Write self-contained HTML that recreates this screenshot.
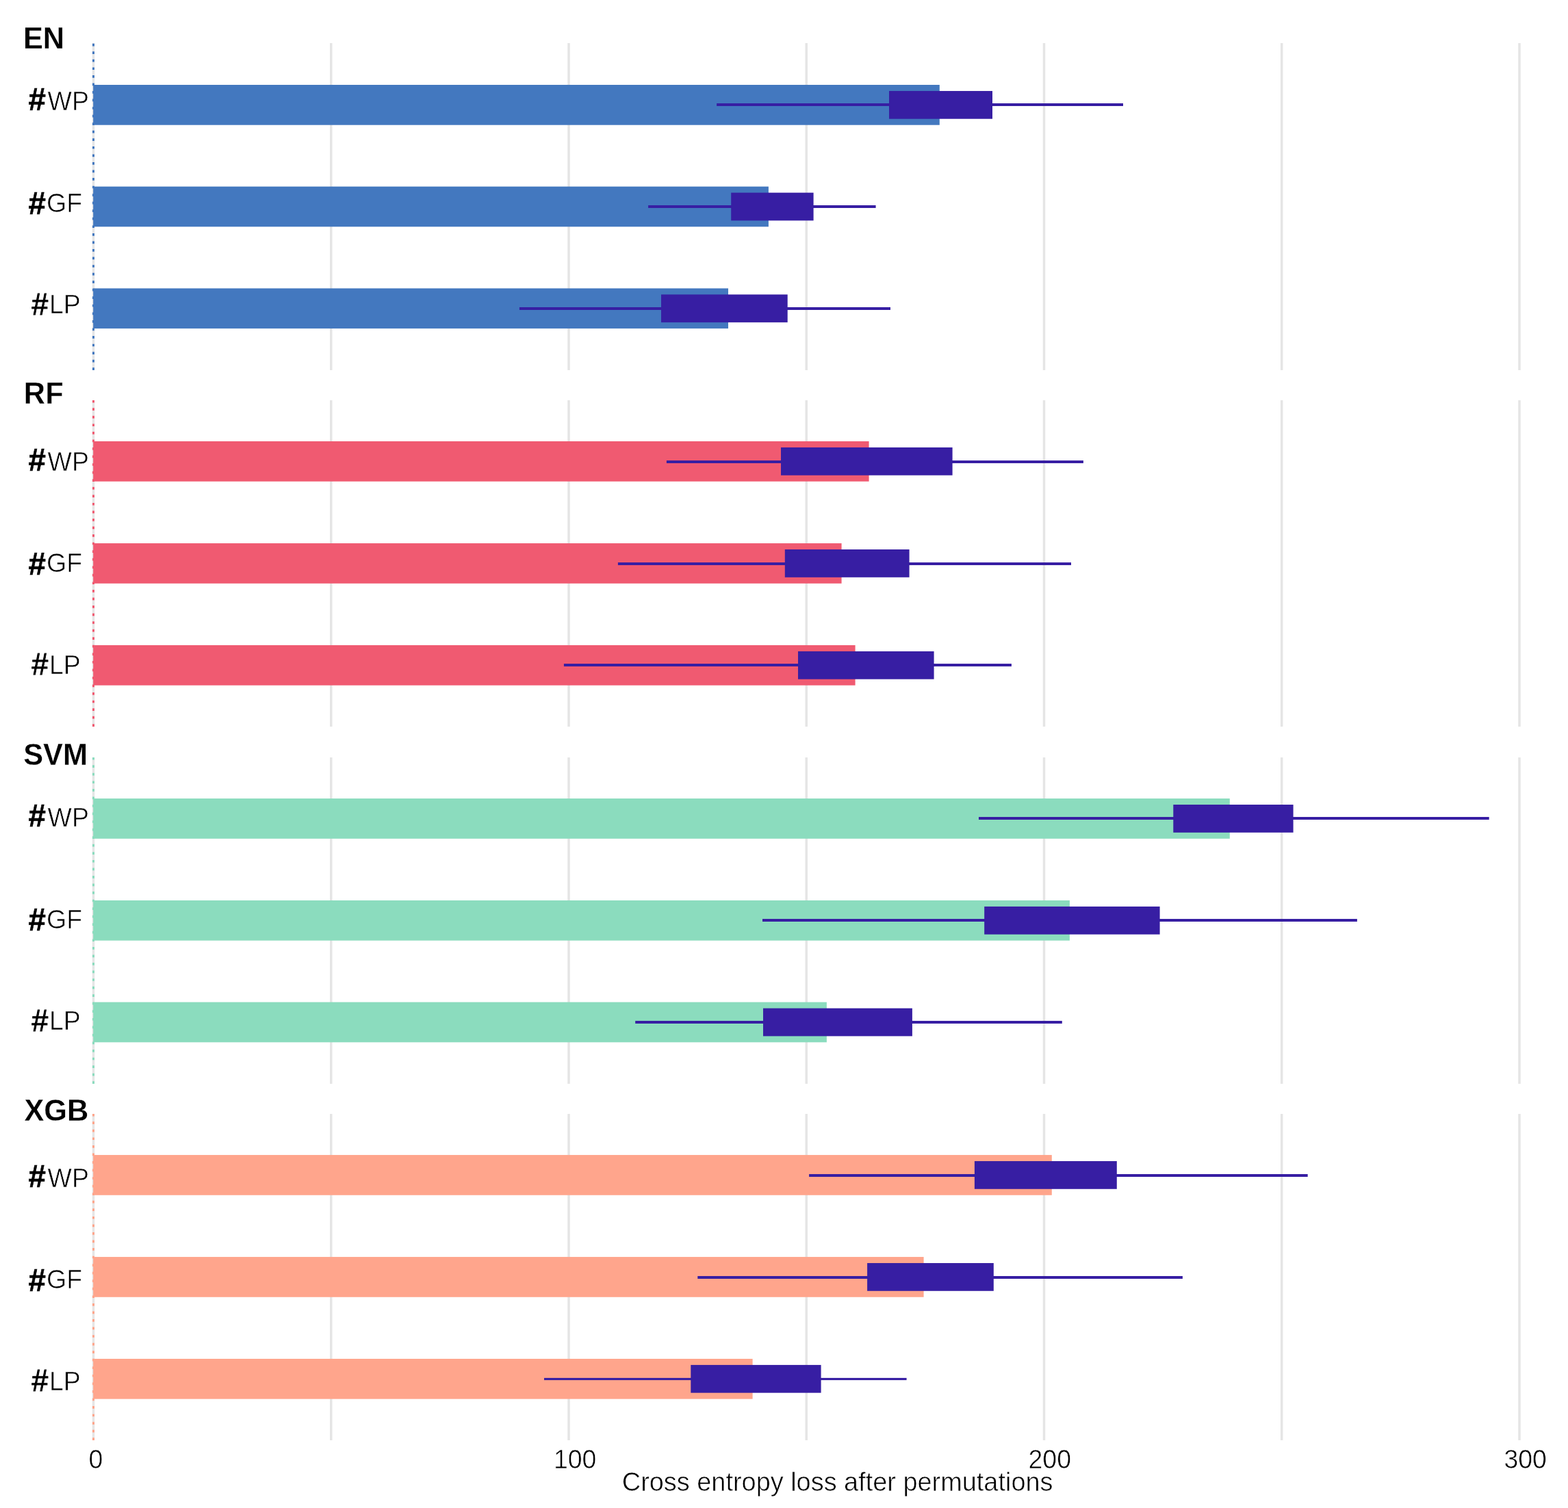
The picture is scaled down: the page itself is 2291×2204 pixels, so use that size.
<!DOCTYPE html>
<html><head><meta charset="utf-8"><title>Cross entropy loss after permutations</title>
<style>html,body{margin:0;padding:0;background:#fff;}svg{display:block;}text{font-family:"Liberation Sans",Arial,sans-serif;fill:#000;}</style></head><body>
<svg width="2291" height="2204" viewBox="0 0 2291 2204">
<rect width="2291" height="2204" fill="#fff"/>
<g><rect x="134.75" y="63" width="3.5" height="478" fill="#e5e5e5"/><rect x="482" y="63" width="3.5" height="478" fill="#e5e5e5"/><rect x="829.25" y="63" width="3.5" height="478" fill="#e5e5e5"/><rect x="1176.5" y="63" width="3.5" height="478" fill="#e5e5e5"/><rect x="1523.75" y="63" width="3.5" height="478" fill="#e5e5e5"/><rect x="1871" y="63" width="3.5" height="478" fill="#e5e5e5"/><rect x="2218.25" y="63" width="3.5" height="478" fill="#e5e5e5"/><line x1="136.5" y1="541" x2="136.5" y2="63" stroke="#4378bf" stroke-width="3" stroke-dasharray="3.7 7.85"/><rect x="136.2" y="124" width="1236.6" height="58.7" fill="#4378bf"/><rect x="136.2" y="272.65" width="986.7" height="58.7" fill="#4378bf"/><rect x="136.2" y="421.45" width="927.8" height="58.7" fill="#4378bf"/><rect x="1047.1" y="151" width="593.9" height="4" fill="#371ea3"/><rect x="1299" y="132.97" width="151" height="40.75" fill="#371ea3"/><rect x="947.1" y="300" width="332.5" height="4" fill="#371ea3"/><rect x="1068.2" y="281.62" width="120.4" height="40.75" fill="#371ea3"/><rect x="758.9" y="449" width="542.1" height="4" fill="#371ea3"/><rect x="966" y="430.43" width="184.7" height="40.75" fill="#371ea3"/></g>
<g><rect x="134.75" y="585" width="3.5" height="477" fill="#e5e5e5"/><rect x="482" y="585" width="3.5" height="477" fill="#e5e5e5"/><rect x="829.25" y="585" width="3.5" height="477" fill="#e5e5e5"/><rect x="1176.5" y="585" width="3.5" height="477" fill="#e5e5e5"/><rect x="1523.75" y="585" width="3.5" height="477" fill="#e5e5e5"/><rect x="1871" y="585" width="3.5" height="477" fill="#e5e5e5"/><rect x="2218.25" y="585" width="3.5" height="477" fill="#e5e5e5"/><line x1="136.5" y1="1062" x2="136.5" y2="585" stroke="#f05a71" stroke-width="3" stroke-dasharray="3.7 7.85"/><rect x="136.2" y="644.95" width="1133.4" height="58.7" fill="#f05a71"/><rect x="136.2" y="794.05" width="1093.4" height="58.7" fill="#f05a71"/><rect x="136.2" y="942.95" width="1113.4" height="58.7" fill="#f05a71"/><rect x="973.9" y="673" width="609" height="4" fill="#371ea3"/><rect x="1141" y="653.92" width="250.6" height="40.75" fill="#371ea3"/><rect x="902.9" y="822" width="662.1" height="4" fill="#371ea3"/><rect x="1146.8" y="803.02" width="181.8" height="40.75" fill="#371ea3"/><rect x="823.9" y="970" width="654" height="4" fill="#371ea3"/><rect x="1166" y="951.92" width="198.6" height="40.75" fill="#371ea3"/></g>
<g><rect x="134.75" y="1107" width="3.5" height="477" fill="#e5e5e5"/><rect x="482" y="1107" width="3.5" height="477" fill="#e5e5e5"/><rect x="829.25" y="1107" width="3.5" height="477" fill="#e5e5e5"/><rect x="1176.5" y="1107" width="3.5" height="477" fill="#e5e5e5"/><rect x="1523.75" y="1107" width="3.5" height="477" fill="#e5e5e5"/><rect x="1871" y="1107" width="3.5" height="477" fill="#e5e5e5"/><rect x="2218.25" y="1107" width="3.5" height="477" fill="#e5e5e5"/><line x1="136.5" y1="1584" x2="136.5" y2="1107" stroke="#8bdcbe" stroke-width="3" stroke-dasharray="3.7 7.85"/><rect x="136.2" y="1167.05" width="1660.6" height="58.7" fill="#8bdcbe"/><rect x="136.2" y="1315.95" width="1426.7" height="58.7" fill="#8bdcbe"/><rect x="136.2" y="1464.65" width="1071.7" height="58.7" fill="#8bdcbe"/><rect x="1430" y="1194" width="745.7" height="4" fill="#371ea3"/><rect x="1714.3" y="1176.03" width="175.3" height="40.75" fill="#371ea3"/><rect x="1114" y="1343" width="868.9" height="4" fill="#371ea3"/><rect x="1438.2" y="1324.92" width="256.4" height="40.75" fill="#371ea3"/><rect x="928.2" y="1492" width="623.6" height="4" fill="#371ea3"/><rect x="1115" y="1473.62" width="217.9" height="40.75" fill="#371ea3"/></g>
<g><rect x="134.75" y="1628" width="3.5" height="477" fill="#e5e5e5"/><rect x="482" y="1628" width="3.5" height="477" fill="#e5e5e5"/><rect x="829.25" y="1628" width="3.5" height="477" fill="#e5e5e5"/><rect x="1176.5" y="1628" width="3.5" height="477" fill="#e5e5e5"/><rect x="1523.75" y="1628" width="3.5" height="477" fill="#e5e5e5"/><rect x="1871" y="1628" width="3.5" height="477" fill="#e5e5e5"/><rect x="2218.25" y="1628" width="3.5" height="477" fill="#e5e5e5"/><line x1="136.5" y1="2105" x2="136.5" y2="1628" stroke="#ffa58c" stroke-width="3" stroke-dasharray="3.7 7.85"/><rect x="136.2" y="1688.05" width="1400.6" height="58.7" fill="#ffa58c"/><rect x="136.2" y="1837.05" width="1213.4" height="58.7" fill="#ffa58c"/><rect x="136.2" y="1985.95" width="963.4" height="58.7" fill="#ffa58c"/><rect x="1182.1" y="1716" width="728.6" height="4" fill="#371ea3"/><rect x="1423.9" y="1697.03" width="207.9" height="40.75" fill="#371ea3"/><rect x="1019.3" y="1865" width="708.6" height="4" fill="#371ea3"/><rect x="1267.1" y="1846.03" width="184.7" height="40.75" fill="#371ea3"/><rect x="795" y="2013.9" width="529.6" height="3.2" fill="#371ea3"/><rect x="1009.3" y="1994.92" width="190.3" height="40.75" fill="#371ea3"/></g>
<text transform="translate(33.97,71) scale(1,1.037)" font-size="43.3" font-weight="bold" stroke="#fff" stroke-width="0.3">EN</text>
<text transform="translate(41.39,160.7) scale(1,1.0)" font-size="45.6" font-weight="bold" stroke="#000" stroke-width="0.6">#</text>
<text transform="translate(69.62,161) scale(1,1.043)" font-size="37.5" stroke="#fff" stroke-width="0.6">WP</text>
<text transform="translate(41.39,312.7) scale(1,1.0)" font-size="45.6" font-weight="bold" stroke="#000" stroke-width="0.6">#</text>
<text transform="translate(68.12,310) scale(1,1.043)" font-size="37.5" stroke="#fff" stroke-width="0.6">GF</text>
<text transform="translate(46.5,459.5) scale(1,1.06)" font-size="42.6" stroke="#000" stroke-width="1">#</text>
<text transform="translate(72,458) scale(1,1.043)" font-size="37.5" stroke="#fff" stroke-width="0.6">LP</text>
<text transform="translate(34.87,590) scale(1,1.037)" font-size="43.3" font-weight="bold" stroke="#fff" stroke-width="0.3">RF</text>
<text transform="translate(41.39,687.7) scale(1,1.0)" font-size="45.6" font-weight="bold" stroke="#000" stroke-width="0.6">#</text>
<text transform="translate(69.62,688) scale(1,1.043)" font-size="37.5" stroke="#fff" stroke-width="0.6">WP</text>
<text transform="translate(41.39,839.7) scale(1,1.0)" font-size="45.6" font-weight="bold" stroke="#000" stroke-width="0.6">#</text>
<text transform="translate(68.12,836) scale(1,1.043)" font-size="37.5" stroke="#fff" stroke-width="0.6">GF</text>
<text transform="translate(46.5,985.5) scale(1,1.06)" font-size="42.6" stroke="#000" stroke-width="1">#</text>
<text transform="translate(72,985) scale(1,1.043)" font-size="37.5" stroke="#fff" stroke-width="0.6">LP</text>
<text transform="translate(34.17,1118) scale(1,1.037)" font-size="43.3" font-weight="bold" stroke="#fff" stroke-width="0.3">SVM</text>
<text transform="translate(41.39,1207.7) scale(1,1.0)" font-size="45.6" font-weight="bold" stroke="#000" stroke-width="0.6">#</text>
<text transform="translate(69.62,1208) scale(1,1.043)" font-size="37.5" stroke="#fff" stroke-width="0.6">WP</text>
<text transform="translate(41.39,1359.7) scale(1,1.0)" font-size="45.6" font-weight="bold" stroke="#000" stroke-width="0.6">#</text>
<text transform="translate(68.12,1357) scale(1,1.043)" font-size="37.5" stroke="#fff" stroke-width="0.6">GF</text>
<text transform="translate(46.5,1506.5) scale(1,1.06)" font-size="42.6" stroke="#000" stroke-width="1">#</text>
<text transform="translate(72,1505) scale(1,1.043)" font-size="37.5" stroke="#fff" stroke-width="0.6">LP</text>
<text transform="translate(35.47,1638) scale(1,1.037)" font-size="43.3" font-weight="bold" stroke="#fff" stroke-width="0.3">XGB</text>
<text transform="translate(41.39,1734.7) scale(1,1.0)" font-size="45.6" font-weight="bold" stroke="#000" stroke-width="0.6">#</text>
<text transform="translate(69.62,1735) scale(1,1.043)" font-size="37.5" stroke="#fff" stroke-width="0.6">WP</text>
<text transform="translate(41.39,1886.7) scale(1,1.0)" font-size="45.6" font-weight="bold" stroke="#000" stroke-width="0.6">#</text>
<text transform="translate(68.12,1883) scale(1,1.043)" font-size="37.5" stroke="#fff" stroke-width="0.6">GF</text>
<text transform="translate(46.5,2032.5) scale(1,1.06)" font-size="42.6" stroke="#000" stroke-width="1">#</text>
<text transform="translate(72,2032) scale(1,1.043)" font-size="37.5" stroke="#fff" stroke-width="0.6">LP</text>
<text transform="translate(129.5,2146) scale(1,1.015)" font-size="37.5" stroke="#fff" stroke-width="0.6">0</text>
<text transform="translate(808.9,2146) scale(1,1.015)" font-size="37.5" stroke="#fff" stroke-width="0.6">100</text>
<text transform="translate(1502.5,2146) scale(1,1.015)" font-size="37.5" stroke="#fff" stroke-width="0.6">200</text>
<text transform="translate(2197.4,2146) scale(1,1.015)" font-size="37.5" stroke="#fff" stroke-width="0.6">300</text>
<text transform="translate(908.81,2179) scale(1,1.0)" font-size="37.9" stroke="#fff" stroke-width="0.6">Cross entropy loss after permutations</text>
</svg></body></html>
